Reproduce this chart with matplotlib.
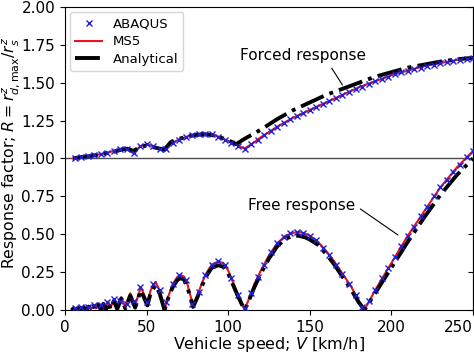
import numpy as np
import matplotlib
matplotlib.use("Agg")
import matplotlib.pyplot as plt

# ABAQUS sample speeds (km/h) and values
abaqus_v = np.arange(6, 251, 4)
abaqus_free = [0.01, 0.02, 0.02, 0.035, 0.03, 0.05, 0.07, 0.06, 0.04, 0.06,
               0.15, 0.05, 0.17, 0.13, 0.05, 0.17, 0.23, 0.20, 0.04, 0.12,
               0.23, 0.30, 0.32, 0.30, 0.21, 0.10, 0.01, 0.11, 0.22, 0.30,
               0.38, 0.44, 0.48, 0.505, 0.515, 0.51, 0.49, 0.46, 0.41, 0.36,
               0.30, 0.24, 0.17, 0.10, 0.02, 0.06, 0.13, 0.21, 0.28, 0.35,
               0.42, 0.49, 0.55, 0.62, 0.68, 0.75, 0.81, 0.86, 0.91, 0.96,
               1.01, 1.05]
abaqus_forced = [1.00, 1.01, 1.015, 1.02, 1.03, 1.035, 1.05, 1.06, 1.06, 1.035,
                 1.08, 1.095, 1.08, 1.06, 1.06, 1.105, 1.125, 1.14, 1.155, 1.16,
                 1.165, 1.16, 1.145, 1.125, 1.105, 1.085, 1.065, 1.095, 1.125, 1.155,
                 1.18, 1.21, 1.235, 1.26, 1.28, 1.30, 1.32, 1.34, 1.36, 1.38,
                 1.40, 1.42, 1.44, 1.46, 1.475, 1.495, 1.51, 1.525, 1.54, 1.555,
                 1.57, 1.58, 1.59, 1.60, 1.61, 1.62, 1.63, 1.64, 1.645, 1.65,
                 1.66, 1.665]

# free response curves
free_v = [4, 5.5, 7, 8.5, 10, 11.5, 13, 14.5, 16, 17.5, 19, 20.5, 22, 23.5,
          25, 26.5, 28, 30, 32, 34.5, 37, 40, 43, 46.5, 50.5, 52.5, 55.5, 58,
          61, 63, 66, 69, 71, 73, 75, 77, 78.5, 81, 84, 87, 90, 94, 97, 100,
          103, 106, 110, 113, 116, 120, 125, 130, 135, 140, 143, 147, 150, 155,
          160, 165, 170, 175, 180, 183.5, 190, 200, 205, 210, 220, 230, 240, 250]
ms5_free = [0.0, 0.01, 0.0, 0.015, 0.005, 0.02, 0.005, 0.025, 0.005, 0.03, 0.01,
            0.04, 0.01, 0.045, 0.01, 0.055, 0.015, 0.07, 0.015, 0.085, 0.02, 0.11,
            0.03, 0.15, 0.05, 0.13, 0.185, 0.13, 0.0, 0.08, 0.17, 0.22, 0.23, 0.22,
            0.17, 0.09, 0.03, 0.09, 0.18, 0.25, 0.30, 0.32, 0.31, 0.26, 0.18, 0.10,
            0.0, 0.08, 0.17, 0.26, 0.36, 0.44, 0.49, 0.51, 0.515, 0.505, 0.49, 0.45,
            0.39, 0.32, 0.24, 0.16, 0.06, 0.0, 0.13, 0.31, 0.40, 0.49, 0.65, 0.81,
            0.94, 1.05]
ana_free = [0.0, 0.01, 0.0, 0.012, 0.0, 0.018, 0.0, 0.022, 0.0, 0.027, 0.0,
            0.035, 0.0, 0.04, 0.0, 0.05, 0.005, 0.06, 0.005, 0.075, 0.01, 0.095,
            0.015, 0.13, 0.03, 0.11, 0.165, 0.11, 0.0, 0.07, 0.15, 0.20, 0.21, 0.20,
            0.15, 0.08, 0.02, 0.08, 0.16, 0.23, 0.28, 0.295, 0.285, 0.24, 0.165, 0.09,
            0.0, 0.07, 0.15, 0.24, 0.34, 0.42, 0.47, 0.49, 0.49, 0.48, 0.465, 0.43,
            0.37, 0.30, 0.22, 0.14, 0.05, 0.0, 0.11, 0.28, 0.365, 0.45, 0.61, 0.76,
            0.89, 1.0]

# forced response curves
forced_v = [5, 10, 15, 20, 25, 30, 35, 38, 42, 46, 50, 54, 58, 61, 65, 70, 75,
            80, 85, 90, 95, 100, 105, 110, 115, 120, 130, 140, 150, 160, 170, 180,
            190, 200, 210, 220, 230, 240, 250]
ms5_forced = [1.0, 1.01, 1.015, 1.025, 1.035, 1.05, 1.065, 1.06, 1.035, 1.08,
              1.095, 1.08, 1.06, 1.05, 1.10, 1.125, 1.145, 1.16, 1.165, 1.16,
              1.14, 1.115, 1.09, 1.065, 1.10, 1.14, 1.21, 1.27, 1.32, 1.37,
              1.42, 1.47, 1.51, 1.55, 1.58, 1.61, 1.63, 1.65, 1.665]
ana_forced = [1.0, 1.01, 1.015, 1.025, 1.035, 1.045, 1.06, 1.065, 1.05, 1.075,
              1.085, 1.075, 1.065, 1.06, 1.11, 1.13, 1.145, 1.155, 1.16, 1.155,
              1.14, 1.12, 1.095, 1.13, 1.16, 1.19, 1.26, 1.32, 1.37, 1.42,
              1.46, 1.50, 1.54, 1.57, 1.60, 1.62, 1.64, 1.655, 1.665]

plt.rcParams['font.size'] = 11
fig, ax = plt.subplots(figsize=(4.74, 3.53), dpi=100)
fig.subplots_adjust(left=0.137, right=0.998, bottom=0.122, top=0.980)

ax.axhline(1.0, color='0.3', lw=1.0, zorder=1)

ax.plot(forced_v, ms5_forced, color='#e8141e', lw=1.5, zorder=3)
ax.plot(free_v, ms5_free, color='#e8141e', lw=1.5, zorder=3, label='MS5')
ax.plot(forced_v, ana_forced, color='black', lw=2.8, ls='-.', zorder=4)
ax.plot(free_v, ana_free, color='black', lw=2.8, ls='-.', zorder=4,
        label='Analytical')
ax.plot(abaqus_v, abaqus_forced, 'x', color='#1f1fd6', ms=5, mew=1.0, zorder=5)
ax.plot(abaqus_v, abaqus_free, 'x', color='#1f1fd6', ms=5, mew=1.0, zorder=5,
        label='ABAQUS')

h, l = ax.get_legend_handles_labels()
order = [2, 0, 1]
ax.legend([h[i] for i in order], [l[i] for i in order], loc='upper left',
          fontsize=9.5, labelspacing=0.35, borderaxespad=0.4)

ax.annotate('Forced response', xy=(170, 1.485), xytext=(146, 1.68),
            ha='center', va='center', fontsize=11,
            arrowprops=dict(arrowstyle='-', lw=0.8, color='black',
                            relpos=(0.7, 0), shrinkA=2, shrinkB=0))
ax.annotate('Free response', xy=(204, 0.495), xytext=(145, 0.69),
            ha='center', va='center', fontsize=11,
            arrowprops=dict(arrowstyle='-', lw=0.8, color='black',
                            relpos=(1, 0.5), shrinkA=2, shrinkB=0))

ax.set_xlim(0, 250)
ax.set_ylim(0, 2.0)
ax.set_xticks([0, 50, 100, 150, 200, 250])
ax.set_yticks(np.arange(0, 2.01, 0.25))
ax.set_xticklabels(['0', '50', '100', '150', '200', '250'])
ax.get_xticklabels()[-1].set_ha('right')
sec = ax.secondary_yaxis('right')
sec.set_yticks(np.arange(0, 2.01, 0.25))
sec.tick_params(direction='in', labelright=False)

ax.set_xlabel('Vehicle speed; $V$ [km/h]', fontsize=11.5, labelpad=0)
ax.set_ylabel(r'Response factor; $R = r^{z}_{d,\mathrm{max}}/r^{z}_{s}$',
              fontsize=11.3)
ax.yaxis.set_label_coords(-0.104, 0.52)

fig.savefig('out.png', dpi=100)
